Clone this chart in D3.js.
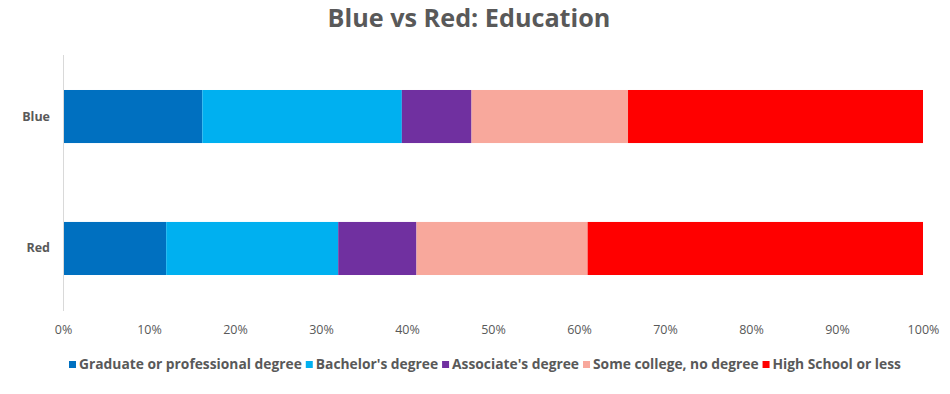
<!DOCTYPE html>
<html><head><meta charset="utf-8">
<script src="https://cdn.jsdelivr.net/npm/d3@7"></script>
<style>body{margin:0;background:#fff}svg{display:block}</style>
</head><body>
<svg id="c" width="950" height="394"></svg>
<script>
const categories = ["Blue", "Red"];
const seriesNames = ["Graduate or professional degree", "Bachelor's degree", "Associate's degree", "Some college, no degree", "High School or less"];
const seriesColors = ["#0070c0", "#00b0f0", "#7030a0", "#f8a89c", "#ff0000"];
const blueValues = [16.2, 23.2, 8.1, 18.2, 34.3];
const redValues = [12.0, 20.0, 9.1, 19.9, 39.0];
const tickValues = [0, 10, 20, 30, 40, 50, 60, 70, 80, 90, 100];

const font = "'Open Sans', sans-serif";
const txt = "#595959";
const svg = d3.select("#c");

const x = d3.scaleLinear().domain([0, 100]).range([63, 923]);
const y = d3.scaleBand().domain(categories).range([57, 308]).paddingInner(0.598).paddingOuter(0.25);

const title = svg.append("text").attr("x", 469).attr("y", 27).attr("text-anchor", "middle")
  .attr("font-family", font).attr("font-weight", "bold").attr("font-size", 21).attr("fill", txt)
  .text("Blue vs Red: Education");
const tw = title.node().getComputedTextLength();
title.attr("font-size", 21 * 283 / tw);

const rows = [blueValues, redValues];
const data = [];
categories.forEach((c, i) => {
  let acc = 0;
  rows[i].forEach((v, j) => { data.push({cat: c, s: j, x0: acc, x1: acc + v}); acc += v; });
});
svg.append("g").selectAll("rect").data(data).join("rect")
  .attr("x", d => x(d.x0)).attr("width", d => x(d.x1) - x(d.x0))
  .attr("y", d => y(d.cat)).attr("height", y.bandwidth())
  .attr("fill", d => seriesColors[d.s]);

svg.append("line").attr("x1", 63.5).attr("x2", 63.5).attr("y1", 55).attr("y2", 311)
  .attr("stroke", "#d9d9d9");

const xa = svg.append("g").attr("transform", "translate(0,312)")
  .call(d3.axisBottom(x).tickValues(tickValues).tickFormat(d => d + "%").tickSize(0).tickPadding(13));
xa.select(".domain").remove();
xa.selectAll("text").attr("font-family", font).attr("font-size", 12.5).attr("fill", txt);

const ya = svg.append("g").attr("transform", "translate(50,0)")
  .call(d3.axisLeft(y).tickSize(0).tickPadding(0));
ya.select(".domain").remove();
ya.selectAll("text").attr("font-family", font).attr("font-weight", "bold").attr("font-size", 12.5).attr("fill", txt);

function layoutLegend(fs) {
  lg.selectAll("*").remove();
  let cx = 0;
  seriesNames.forEach((n, i) => {
    const g = lg.append("g").attr("transform", `translate(${cx},0)`);
    g.append("rect").attr("x", 0).attr("y", -8).attr("width", 7).attr("height", 7).attr("fill", seriesColors[i]);
    const t = g.append("text").attr("x", 10).attr("y", 0).attr("font-family", font).attr("font-weight", "bold")
      .attr("font-size", fs).attr("fill", txt).text(n);
    cx += 10 + t.node().getComputedTextLength() + 4;
  });
  return cx - 4;
}
const lg = svg.append("g");
let lw = layoutLegend(13);
const fs = 13 * (834 - 50) / (lw - 50);
lw = layoutLegend(fs);
lg.attr("transform", `translate(${69},369)`);
</script>
</body></html>
